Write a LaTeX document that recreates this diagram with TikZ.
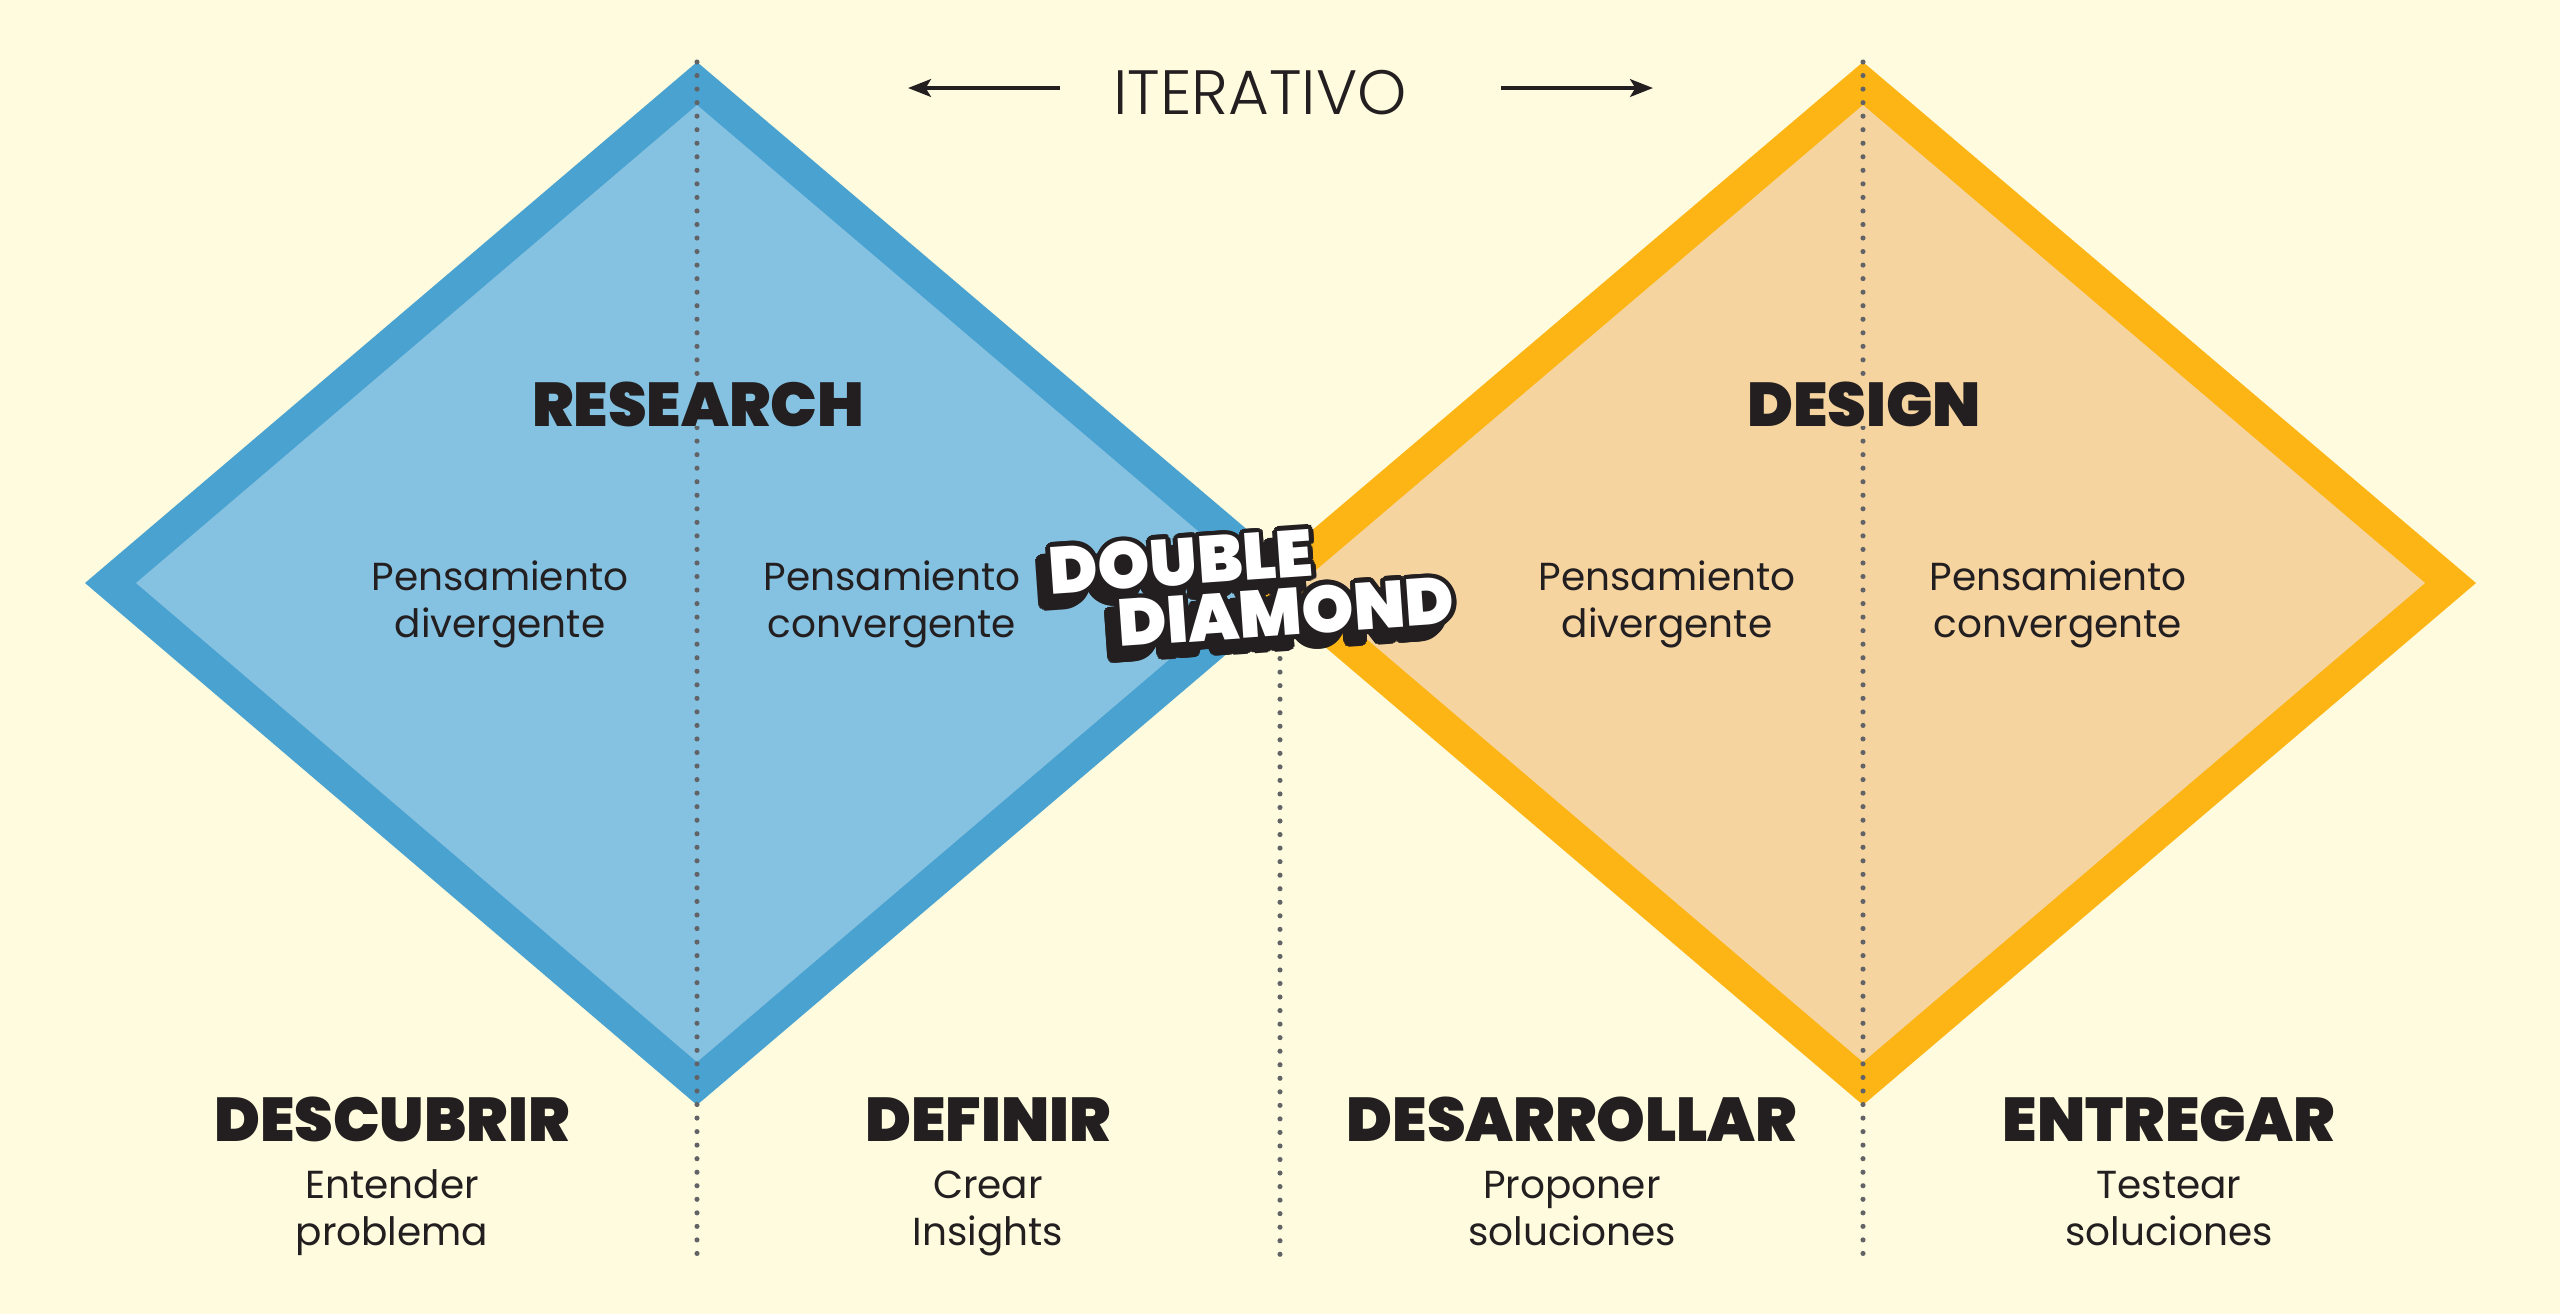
\documentclass[tikz,border=0pt]{standalone}
\usepackage{fontspec}
\setmainfont{Poppins}
\newfontfamily\heavyfont{Poppins Black}
\newfontfamily\lightfont{Poppins Light}
\usepackage{contour}
\contourlength{1.35pt}
\contournumber{16}
\usetikzlibrary{arrows.meta}
\definecolor{bg}{HTML}{FEFBDE}
\definecolor{bblue}{HTML}{4AA2D0}
\definecolor{lblue}{HTML}{85C1E1}
\definecolor{borange}{HTML}{FDB515}
\definecolor{lorange}{HTML}{F5D4A0}
\definecolor{ink}{HTML}{231F20}
\definecolor{dotc}{HTML}{626366}
\begin{document}
\begin{tikzpicture}[x=0.01cm,y=-0.01cm,
  heading/.style={font=\heavyfont\fontsize{17.6}{20}\selectfont, text=ink, anchor=base, inner sep=0pt},
  body/.style={font=\fontsize{11.1}{13}\selectfont, text=ink, anchor=base, inner sep=0pt},
  dots/.style={dotc, line width=1.45pt, dash pattern=on 0pt off 3.85pt, line cap=round},
  iterarrow/.style={ink, line width=1.15pt, -{Stealth[length=6.5pt,width=5pt,inset=1.5pt]}},
  logo/.style={font=\heavyfont\fontsize{18.8}{20}\selectfont, rotate=4, inner sep=0pt, anchor=center}
]
\useasboundingbox (0,0) rectangle (2560,1314);
\fill[bg] (0,0) rectangle (2560,1314);

% diamonds
\fill[bblue] (85,583) -- (697,62) -- (1310,583) -- (697,1105) -- cycle;
\fill[lblue] (136,583) -- (697,105) -- (1259,583) -- (697,1062) -- cycle;
\fill[borange] (1250,583) -- (1863,62) -- (2476,583) -- (1863,1105) -- cycle;
\fill[lorange] (1301,583) -- (1863,105) -- (2425,583) -- (1863,1062) -- cycle;

% dotted dividers
\coordinate (d1t) at (697,62);   \coordinate (d1b) at (697,1257);
\coordinate (d2t) at (1280,645); \coordinate (d2b) at (1280,1257);
\coordinate (d3t) at (1863,62);  \coordinate (d3b) at (1863,1257);
\draw[dots] (d1t) -- (d1b);
\draw[dots] (d2t) -- (d2b);
\draw[dots] (d3t) -- (d3b);

% iterativo
\node[font=\lightfont\fontsize{17.8}{20}\selectfont, text=ink, anchor=base, inner sep=0pt] (iter) at (1260,114) {ITERATIVO};
\coordinate (la1) at (1060,88); \coordinate (la2) at (908,88);
\coordinate (ra1) at (1501,88); \coordinate (ra2) at (1653,88);
\draw[iterarrow] (la1) -- (la2);
\draw[iterarrow] (ra1) -- (ra2);

% diamond titles
\node[heading, fill=lblue] (research) at (698,426) {RESEARCH};
\node[heading, fill=lorange] (design) at (1864,426) {DESIGN};

% thinking modes
\node[body] (p1a) at (500,590) {Pensamiento};
\node[body] (p1b) at (500,637) {divergente};
\node[body] (p2a) at (892,590) {Pensamiento};
\node[body] (p2b) at (892,637) {convergente};
\node[body] (p3a) at (1667,590) {Pensamiento};
\node[body] (p3b) at (1667,637) {divergente};
\node[body] (p4a) at (2058,590) {Pensamiento};
\node[body] (p4b) at (2058,637) {convergente};

% logo
\node[logo, text=ink] (s1) at (1171,576) {\contour{ink}{DOUBLE}};
\node[logo, text=ink] (s2) at (1276,626) {\contour{ink}{DIAMOND}};
\node[logo, text=white] (l1) at (1181,564) {\contour{ink}{DOUBLE}};
\node[logo, text=white] (l2) at (1286,614) {\contour{ink}{DIAMOND}};

% phases
\node[heading] (h1) at (392,1141) {DESCUBRIR};
\node[heading] (h2) at (988,1141) {DEFINIR};
\node[heading] (h3) at (1572,1141) {DESARROLLAR};
\node[heading] (h4) at (2169,1141) {ENTREGAR};
\node[body] (s1a) at (392,1198) {Entender};
\node[body] (s1b) at (392,1245) {problema};
\node[body] (s2a) at (988,1198) {Crear};
\node[body] (s2b) at (988,1245) {Insights};
\node[body] (s3a) at (1572,1198) {Proponer};
\node[body] (s3b) at (1572,1245) {soluciones};
\node[body] (s4a) at (2169,1198) {Testear};
\node[body] (s4b) at (2169,1245) {soluciones};
\end{tikzpicture}
\end{document}
